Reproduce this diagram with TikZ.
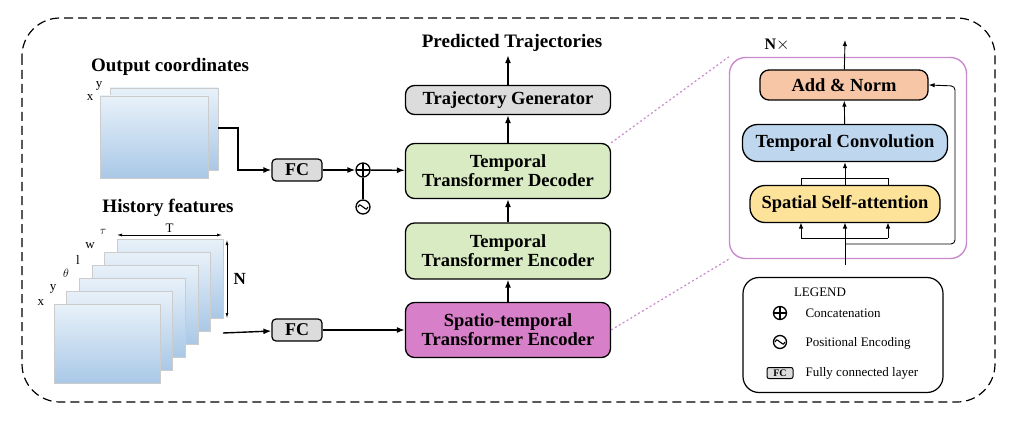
\documentclass[tikz,border=0pt]{standalone}
\usepackage{fontspec}
\setmainfont{Liberation Serif}
\usetikzlibrary{arrows.meta}
\definecolor{greenbox}{HTML}{D8EBC2}
\definecolor{magbox}{HTML}{D77FC8}
\definecolor{graybox}{HTML}{DCDCDC}
\definecolor{salmon}{HTML}{F7C6A6}
\definecolor{bluebox}{HTML}{BED7EE}
\definecolor{yellowbox}{HTML}{FDE39A}
\definecolor{pinkline}{HTML}{C98BCB}
\definecolor{frametop}{HTML}{E8F1F9}
\definecolor{framebot}{HTML}{A9C8E7}
\tikzset{
  blk/.style={draw, line width=1.3pt, rounded corners=9pt, align=center,
    font=\bfseries\fontsize{18.5}{19}\selectfont, inner sep=0pt},
  fc/.style={draw, line width=1.2pt, rounded corners=4pt, fill=graybox,
    minimum width=50pt, minimum height=22pt, font=\bfseries\fontsize{18}{18}\selectfont},
  arr/.style={-{Latex[length=8pt,width=6pt]}, line width=1.4pt},
  sarr/.style={-{Latex[length=6pt,width=4.5pt]}, line width=0.9pt},
  frame/.style={draw=gray!40, line width=0.5pt, top color=frametop, bottom color=framebot},
  lbl/.style={font=\bfseries\fontsize{19}{20}\selectfont},
  small/.style={font=\fontsize{13}{14}\selectfont},
  oplus/.style={circle, draw, line width=1.3pt, minimum size=14pt, inner sep=0pt,
    path picture={\draw[line width=1.1pt] (path picture bounding box.north) -- (path picture bounding box.south)
      (path picture bounding box.west) -- (path picture bounding box.east);}},
  sine/.style={circle, draw, line width=1.3pt, minimum size=14pt, inner sep=0pt,
    path picture={\draw[line width=1.1pt] ([xshift=-5pt]path picture bounding box.center)
      .. controls +(2.5pt,5pt) and +(-2.5pt,0pt) .. ([xshift=0pt]path picture bounding box.center)
      .. controls +(2.5pt,0pt) and +(-2.5pt,-5pt) .. ([xshift=5pt]path picture bounding box.center);}}
}
\begin{document}
\begin{tikzpicture}[x=1pt,y=-1pt]
\useasboundingbox (0,0) rectangle (1015,425);
% outer dashed frame
\draw[dash pattern=on 9pt off 5pt, line width=1.2pt, rounded corners=38pt] (22,18) rectangle (995,402);

% output coordinates
\node[lbl] (oclbl) at (170,67) {Output coordinates};
\draw[frame] (110,88) rectangle (218,170);
\draw[frame] (100,96) rectangle (208,178);
\coordinate (ocout) at (218,128);
\node[small] (ocx) at (90,98) {x};
\node[small] (ocy) at (99,86) {y};

% history features
\node[lbl] (hflbl) at (168,208) {History features};
\foreach \i in {5,4,...,0}
  \draw[frame] ({54+12.6*\i},{304-13*\i}) rectangle ({160+12.6*\i},{383-13*\i});
\coordinate (hfout) at (223,333);
\foreach \t/\px/\py in {x/41/303, y/53/289, $\theta$/66/273, l/78/260, w/90/246, $\tau$/103/232}
  \node[small] at (\px,\py) {\t};
\coordinate (tl) at (117,235); \coordinate (tr) at (222,235);
\draw[{Latex[length=5pt,width=3pt]}-{Latex[length=5pt,width=3pt]}, line width=0.7pt] (tl) -- node[above=-1pt, small] {T} (tr);
\coordinate (nt) at (227,240); \coordinate (nb) at (227,318);
\draw[{Latex[length=5pt,width=3pt]}-{Latex[length=5pt,width=3pt]}, line width=0.7pt] (nt) -- node[right=3pt, font=\bfseries\fontsize{17}{17}\selectfont] {N} (nb);

% FC and combination
\node[fc] (fc1) at (297,170) {FC};
\node[fc] (fc2) at (297,330) {FC};
\node[oplus] (cat) at (363,170) {};
\node[sine] (pe) at (363,207) {};

% main column
\node[blk, fill=graybox, minimum width=205pt, minimum height=29pt] (gen) at (508,100) {Trajectory Generator};
\node[blk, fill=greenbox, minimum width=205pt, minimum height=55pt] (dec) at (508,171) {Temporal\\Transformer Decoder};
\node[blk, fill=greenbox, minimum width=205pt, minimum height=56pt] (enc) at (508,251) {Temporal\\Transformer Encoder};
\node[blk, fill=magbox, minimum width=205pt, minimum height=55pt] (st) at (508,330) {Spatio-temporal\\Transformer Encoder};
\node[lbl] (pred) at (512,43) {Predicted Trajectories};

\draw[arr] (ocout) -- (238,128) |- (fc1.west);
\draw[arr] (fc1) -- (cat);
\draw[line width=1.3pt] (cat) -- (pe);
\draw[arr] (cat) -- (dec);
\draw[arr] (hfout) -- (fc2);
\draw[arr] (fc2) -- (st);
\draw[arr] (st) -- (enc);
\draw[arr] (enc) -- (dec);
\draw[arr] (dec) -- (gen);
\draw[arr] (gen.north) -- (gen.north |- pred.south);

% detail box
\node[draw=pinkline, line width=1.4pt, rounded corners=16pt, minimum width=237pt, minimum height=201pt] (detail) at (848,158) {};
\draw[pinkline, line width=1.2pt, dash pattern=on 2pt off 2.5pt] (dec.north east) -- (detail.north west);
\draw[pinkline, line width=1.2pt, dash pattern=on 2pt off 2.5pt] (st.east) -- (detail.south west);
\node[blk, fill=salmon, minimum width=168pt, minimum height=30pt] (an) at (844,85) {Add \& Norm};
\node[blk, fill=bluebox, minimum width=205pt, minimum height=37pt, rounded corners=15pt] (tc) at (845,143) {Temporal Convolution};
\node[blk, fill=yellowbox, minimum width=190pt, minimum height=37pt, rounded corners=15pt] (ssa) at (845,204) {Spatial Self-attention};
\node[font=\bfseries\fontsize{16}{16}\selectfont] (nx) at (777,45) {N$\times$};
\coordinate (in) at (845,265);
\coordinate (out) at (845,40);
\draw[line width=0.9pt] (in) -- (845,238);
\draw[line width=0.9pt] (801,238) -- (888,238);
\draw[sarr] (801,238) -- (801,222.5);
\draw[sarr] (845,238) -- (845,222.5);
\draw[sarr] (888,238) -- (888,222.5);
\draw[line width=0.9pt] (801,185.5) -- (801,178) -- (888,178) -- (888,185.5);
\draw[sarr] (ssa) -- (tc);
\draw[sarr] (tc) -- (an);
\draw[sarr] (an) -- (out);
\draw[sarr, rounded corners=4pt] (845,244) -- (955,244) -- (955,86) -- (an.east);

% legend
\node[draw, line width=1.2pt, rounded corners=16pt, minimum width=200pt, minimum height=115pt] (legend) at (843,335) {};
\node[small] (legt) at (820,292) {LEGEND};
\node[oplus, minimum size=13pt] (lcat) at (780,313) {};
\node[small, anchor=west] (lcatt) at (802,313) {Concatenation};
\node[sine, minimum size=13pt] (lpe) at (780,342) {};
\node[small, anchor=west] (lpet) at (802,343) {Positional Encoding};
\node[draw, line width=1pt, rounded corners=2pt, fill=graybox, minimum width=26pt, minimum height=11pt, inner sep=0pt, font=\bfseries\fontsize{10}{10}\selectfont] (lfc) at (780,373) {FC};
\node[small, anchor=west] (lfct) at (802,373) {Fully connected layer};
\end{tikzpicture}
\end{document}
